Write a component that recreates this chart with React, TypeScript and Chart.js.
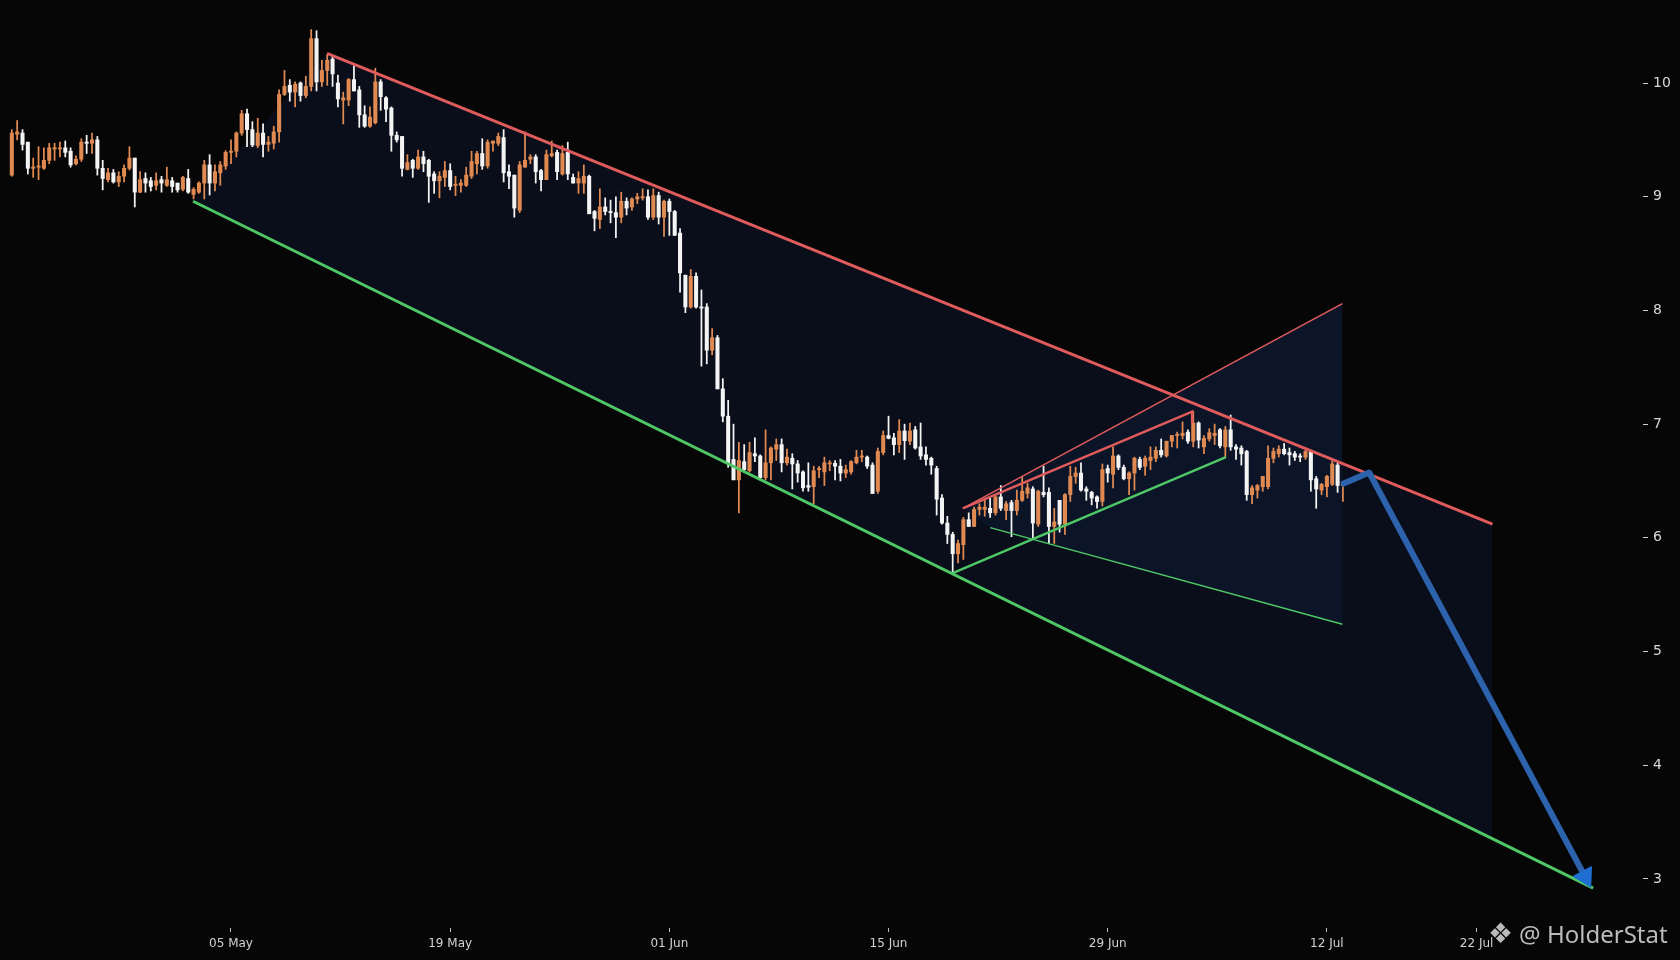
import React, { useEffect, useRef } from "react";
import { Chart, registerables } from "chart.js";

Chart.register(...registerables);

// ---- Candle data (8h candles, index 0..249) ----
const OPEN = [
  9.19, 9.55, 9.56, 9.48, 9.25, 9.26, 9.25, 9.32, 9.42, 9.42,
  9.43, 9.40, 9.29, 9.33, 9.48, 9.47, 9.50, 9.25, 9.15, 9.21,
  9.13, 9.18, 9.25, 9.34, 9.04, 9.16, 9.14, 9.10, 9.15, 9.10,
  9.14, 9.12, 9.065, 9.16, 9.02, 9.04, 9.12, 9.28, 9.12, 9.21,
  9.27, 9.39, 9.40, 9.56, 9.73, 9.59, 9.45, 9.56, 9.46, 9.47,
  9.57, 9.90, 9.98, 9.92, 10.00, 9.89, 9.97, 10.39, 10.01, 10.11,
  10.21, 10.00, 9.85, 9.85, 10.03, 9.94, 9.72, 9.62, 9.65, 10.01,
  9.87, 9.78, 9.54, 9.53, 9.24, 9.32, 9.25, 9.35, 9.32, 9.20,
  9.14, 9.17, 9.23, 9.10, 9.10, 9.10, 9.18, 9.29, 9.38, 9.27,
  9.47, 9.47, 9.52, 9.22, 9.19, 8.88, 9.26, 9.33, 9.35, 9.23,
  9.15, 9.36, 9.39, 9.20, 9.39, 9.17, 9.12, 9.12, 9.18, 8.87,
  8.80, 8.91, 8.87, 8.86, 8.82, 8.96, 8.91, 8.98, 8.99, 9.00,
  8.82, 9.01, 8.82, 8.96, 8.87, 8.68, 8.31, 8.03, 8.30, 8.03,
  8.03, 7.65, 7.76, 7.31, 7.07, 6.69, 6.51, 6.67, 6.59, 6.74,
  6.72, 6.53, 6.66, 6.78, 6.82, 6.66, 6.70, 6.65, 6.58, 6.46,
  6.45, 6.60, 6.58, 6.65, 6.655, 6.63, 6.57, 6.58, 6.66, 6.71,
  6.71, 6.64, 6.41, 6.75, 6.90, 6.88, 6.82, 6.94, 6.85, 6.95,
  6.80, 6.73, 6.70, 6.61, 6.35, 6.13, 6.03, 5.86, 5.94, 6.16,
  6.10, 6.25, 6.25, 6.26, 6.22, 6.36, 6.24, 6.31, 6.24, 6.33,
  6.39, 6.43, 6.12, 6.40, 6.40, 6.10, 6.33, 6.12, 6.38, 6.54,
  6.57, 6.43, 6.40, 6.36, 6.32, 6.61, 6.56, 6.72, 6.62, 6.52,
  6.57, 6.69, 6.63, 6.68, 6.70, 6.77, 6.72, 6.85, 6.90, 6.90,
  6.93, 6.85, 7.01, 6.80, 6.87, 6.90, 6.95, 6.80, 6.95, 6.80,
  6.79, 6.76, 6.38, 6.42, 6.45, 6.45, 6.70, 6.74, 6.78, 6.75,
  6.74, 6.72, 6.71, 6.76, 6.52, 6.42, 6.45, 6.47, 6.64, 6.46,
];
const HIGH = [
  9.59, 9.67, 9.59, 9.48, 9.34, 9.44, 9.43, 9.47, 9.47, 9.48,
  9.49, 9.43, 9.36, 9.51, 9.54, 9.56, 9.53, 9.32, 9.25, 9.24,
  9.22, 9.28, 9.44, 9.34, 9.22, 9.21, 9.17, 9.21, 9.18, 9.26,
  9.17, 9.12, 9.18, 9.24, 9.08, 9.13, 9.32, 9.37, 9.28, 9.31,
  9.405, 9.50, 9.57, 9.76, 9.77, 9.66, 9.69, 9.64, 9.53, 9.62,
  9.94, 10.11, 10.03, 10.01, 10.01, 10.06, 10.47, 10.46, 10.20, 10.25,
  10.23, 10.07, 9.92, 10.04, 10.15, 9.97, 9.80, 9.79, 10.13, 10.03,
  9.88, 9.79, 9.57, 9.53, 9.37, 9.33, 9.41, 9.40, 9.33, 9.22,
  9.22, 9.31, 9.29, 9.18, 9.15, 9.26, 9.40, 9.40, 9.51, 9.50,
  9.49, 9.56, 9.59, 9.28, 9.19, 9.31, 9.57, 9.37, 9.37, 9.24,
  9.41, 9.49, 9.41, 9.45, 9.48, 9.20, 9.22, 9.28, 9.19, 8.88,
  9.07, 8.99, 8.97, 9.00, 9.04, 8.99, 8.99, 9.03, 9.07, 9.06,
  9.07, 9.04, 8.97, 8.98, 8.88, 8.72, 8.31, 8.36, 8.33, 8.18,
  8.06, 7.84, 7.78, 7.40, 7.21, 7.00, 6.84, 6.82, 6.84, 6.88,
  6.73, 6.95, 6.80, 6.87, 6.87, 6.78, 6.74, 6.68, 6.59, 6.66,
  6.63, 6.63, 6.71, 6.68, 6.68, 6.69, 6.64, 6.68, 6.77, 6.77,
  6.72, 6.66, 6.79, 6.94, 7.07, 6.92, 7.04, 7.00, 7.01, 6.98,
  7.01, 6.80, 6.71, 6.63, 6.38, 6.19, 6.05, 5.98, 6.18, 6.22,
  6.27, 6.30, 6.35, 6.35, 6.38, 6.46, 6.32, 6.33, 6.42, 6.54,
  6.48, 6.45, 6.42, 6.63, 6.44, 6.26, 6.33, 6.39, 6.63, 6.62,
  6.66, 6.45, 6.41, 6.37, 6.65, 6.64, 6.80, 6.73, 6.64, 6.58,
  6.71, 6.71, 6.72, 6.80, 6.80, 6.87, 6.85, 6.90, 6.93, 7.02,
  6.95, 7.11, 7.02, 6.90, 6.96, 7.00, 6.96, 6.98, 7.08, 6.82,
  6.81, 6.77, 6.46, 6.47, 6.54, 6.81, 6.79, 6.81, 6.83, 6.79,
  6.76, 6.74, 6.79, 6.77, 6.54, 6.48, 6.55, 6.68, 6.66, 6.48,
];
const LOW = [
  9.18, 9.50, 9.41, 9.20, 9.17, 9.15, 9.24, 9.29, 9.32, 9.35,
  9.35, 9.26, 9.28, 9.31, 9.38, 9.38, 9.19, 9.06, 9.13, 9.12,
  9.09, 9.13, 9.235, 8.91, 9.035, 9.04, 9.05, 9.06, 9.04, 9.09,
  9.04, 9.04, 9.05, 9.03, 8.98, 9.03, 8.98, 9.015, 9.05, 9.10,
  9.24, 9.29, 9.35, 9.54, 9.44, 9.44, 9.43, 9.35, 9.40, 9.42,
  9.48, 9.89, 9.84, 9.79, 9.84, 9.87, 9.93, 9.93, 9.97, 9.98,
  9.97, 9.79, 9.64, 9.80, 9.93, 9.61, 9.61, 9.61, 9.64, 9.76,
  9.66, 9.40, 9.48, 9.18, 9.235, 9.17, 9.24, 9.22, 8.95, 9.03,
  8.99, 9.09, 9.06, 9.01, 9.04, 9.09, 9.16, 9.20, 9.24, 9.25,
  9.40, 9.45, 9.13, 9.07, 8.82, 8.86, 9.26, 9.29, 9.12, 9.05,
  9.15, 9.35, 9.15, 9.19, 9.15, 9.12, 9.03, 9.03, 8.85, 8.70,
  8.72, 8.84, 8.77, 8.64, 8.77, 8.84, 8.88, 8.94, 8.97, 8.80,
  8.80, 8.76, 8.65, 8.66, 8.66, 8.16, 7.98, 8.02, 8.02, 7.51,
  7.53, 7.61, 7.31, 7.02, 6.62, 6.51, 6.22, 6.58, 6.58, 6.67,
  6.51, 6.51, 6.51, 6.68, 6.58, 6.64, 6.43, 6.49, 6.41, 6.41,
  6.30, 6.53, 6.46, 6.59, 6.51, 6.50, 6.53, 6.56, 6.65, 6.67,
  6.61, 6.39, 6.39, 6.73, 6.87, 6.73, 6.75, 6.69, 6.82, 6.78,
  6.69, 6.64, 6.56, 6.20, 6.12, 5.95, 5.69, 5.78, 5.81, 6.10,
  6.10, 6.20, 6.19, 6.18, 6.20, 6.24, 6.16, 6.01, 6.20, 6.32,
  6.35, 6.00, 6.10, 6.36, 5.95, 5.95, 6.05, 6.03, 6.32, 6.48,
  6.41, 6.33, 6.29, 6.26, 6.28, 6.49, 6.44, 6.60, 6.51, 6.38,
  6.42, 6.60, 6.55, 6.60, 6.67, 6.71, 6.71, 6.80, 6.79, 6.87,
  6.83, 6.80, 6.79, 6.74, 6.85, 6.82, 6.79, 6.71, 6.77, 6.69,
  6.64, 6.33, 6.30, 6.35, 6.41, 6.43, 6.66, 6.71, 6.73, 6.64,
  6.68, 6.67, 6.69, 6.41, 6.26, 6.38, 6.36, 6.46, 6.40, 6.32,
];
const CLOSE = [
  9.56, 9.57, 9.46, 9.25, 9.26, 9.27, 9.32, 9.43, 9.43, 9.43,
  9.39, 9.28, 9.33, 9.48, 9.47, 9.50, 9.25, 9.16, 9.21, 9.13,
  9.18, 9.25, 9.34, 9.04, 9.15, 9.12, 9.09, 9.14, 9.12, 9.15,
  9.09, 9.06, 9.17, 9.04, 9.065, 9.12, 9.28, 9.12, 9.22, 9.28,
  9.39, 9.40, 9.56, 9.73, 9.59, 9.455, 9.56, 9.46, 9.48, 9.57,
  9.90, 9.97, 9.92, 9.99, 9.89, 9.97, 10.39, 10.01, 10.11, 10.20,
  10.08, 9.86, 9.87, 10.03, 9.93, 9.72, 9.62, 9.70, 10.01, 9.88,
  9.77, 9.54, 9.50, 9.25, 9.30, 9.25, 9.35, 9.29, 9.18, 9.14,
  9.18, 9.23, 9.09, 9.11, 9.12, 9.19, 9.31, 9.38, 9.27, 9.48,
  9.49, 9.53, 9.21, 9.18, 8.90, 9.28, 9.32, 9.35, 9.22, 9.15,
  9.37, 9.38, 9.22, 9.38, 9.20, 9.12, 9.16, 9.18, 8.85, 8.81,
  8.91, 8.87, 8.86, 8.82, 8.96, 8.90, 8.98, 9.00, 9.00, 8.82,
  9.01, 8.82, 8.96, 8.87, 8.66, 8.33, 8.03, 8.30, 8.03, 8.02,
  7.65, 7.76, 7.31, 7.07, 6.66, 6.51, 6.68, 6.60, 6.75, 6.72,
  6.53, 6.66, 6.79, 6.82, 6.66, 6.71, 6.65, 6.57, 6.44, 6.445,
  6.59, 6.61, 6.66, 6.66, 6.63, 6.57, 6.60, 6.67, 6.71, 6.72,
  6.63, 6.39, 6.76, 6.90, 6.875, 6.82, 6.94, 6.855, 6.94, 6.79,
  6.72, 6.69, 6.64, 6.34, 6.13, 6.03, 5.86, 5.95, 6.16, 6.10,
  6.25, 6.27, 6.27, 6.22, 6.36, 6.26, 6.30, 6.24, 6.33, 6.41,
  6.44, 6.13, 6.41, 6.38, 6.10, 6.14, 6.12, 6.38, 6.54, 6.57,
  6.42, 6.41, 6.35, 6.32, 6.60, 6.57, 6.72, 6.62, 6.52, 6.57,
  6.70, 6.62, 6.70, 6.71, 6.77, 6.73, 6.85, 6.90, 6.91, 6.92,
  6.85, 7.01, 6.86, 6.875, 6.925, 6.92, 6.81, 6.95, 6.80, 6.78,
  6.74, 6.38, 6.44, 6.46, 6.54, 6.70, 6.76, 6.78, 6.74, 6.73,
  6.71, 6.71, 6.76, 6.51, 6.43, 6.47, 6.54, 6.65, 6.46, 6.47,
];

// ---- Axis ticks ----
const X_TICK_POS = [41, 82, 123, 164, 205, 246, 274];
const X_TICK_LABELS = ["05 May", "19 May", "01 Jun", "15 Jun", "29 Jun", "12 Jul", "22 Jul"];
const Y_TICKS = [3, 4, 5, 6, 7, 8, 9, 10];

// ---- Drawn trend lines: [candle index, price] ----
const CHANNEL_UPPER = [[58.96, 10.26], [276.97, 6.12]];
const CHANNEL_LOWER = [[33.9, 8.96], [295.8, 2.92]];
const CHANNEL_AREA_TOP = [[33.9, 8.96], [58.96, 10.26], [276.97, 6.12]];
const CHANNEL_AREA_BOTTOM = [[33.9, 8.96], [276.97, 3.35]];
const WEDGE_UPPER = [[177.9, 6.26], [248.9, 8.06]];
const WEDGE_LOWER = [[183.0, 6.09], [248.9, 5.24]];
const WEDGE_AREA_BOTTOM = [[177.9, 6.26], [183.0, 6.09], [248.9, 5.24]];
const RISING_UPPER = [[177.9, 6.26], [220.8, 7.11], [220.8, 7.01]];
const RISING_LOWER = [[176.0, 5.69], [227.1, 6.71]];
const ARROW_PATH = [[248.7, 6.47], [253.9, 6.575], [294.3, 3.02]];

const ORANGE = "#e08a52";
const WHITE = "#f4f4f4";
const RED = "#e05c5c";
const GREEN = "#4fc766";

const pts = (arr: number[][]) => arr.map(([x, y]) => ({ x, y }));
const isUp = (i: number) => CLOSE[i] >= OPEN[i];

export default function App() {
  const ref = useRef<HTMLCanvasElement | null>(null);

  useEffect(() => {
    document.body.style.margin = "0";
    document.body.style.background = "#060606";
    const canvas = ref.current;
    if (!canvas) return;

    const candleColor = (c: any) => (isUp(c.dataIndex) ? ORANGE : WHITE);

    const arrowRotation = (c: any) => {
      const chart = c.chart;
      const xs = chart.scales.x;
      const ys = chart.scales.y;
      const a = ARROW_PATH[1];
      const b = ARROW_PATH[2];
      const dx = xs.getPixelForValue(b[0]) - xs.getPixelForValue(a[0]);
      const dy = ys.getPixelForValue(b[1]) - ys.getPixelForValue(a[1]);
      return (Math.atan2(dx, -dy) * 180) / Math.PI;
    };

    const lineDs = (data: number[][], color: string, width: number, order: number) => ({
      type: "line",
      data: pts(data),
      borderColor: color,
      borderWidth: width,
      pointRadius: 0,
      fill: false,
      tension: 0,
      order,
    });

    const chart = new Chart(canvas, {
      type: "bar",
      data: {
        datasets: [
          {
            type: "line",
            data: pts(CHANNEL_AREA_TOP),
            borderColor: "transparent",
            borderWidth: 0,
            pointRadius: 0,
            backgroundColor: "#0a0e1a",
            fill: 1,
            order: 30,
          },
          {
            type: "line",
            data: pts(CHANNEL_AREA_BOTTOM),
            borderColor: "transparent",
            borderWidth: 0,
            pointRadius: 0,
            fill: false,
            order: 31,
          },
          {
            type: "line",
            data: pts(WEDGE_UPPER),
            borderColor: "transparent",
            borderWidth: 0,
            pointRadius: 0,
            backgroundColor: "#0c1528",
            fill: 3,
            order: 28,
          },
          {
            type: "line",
            data: pts(WEDGE_AREA_BOTTOM),
            borderColor: "transparent",
            borderWidth: 0,
            pointRadius: 0,
            fill: false,
            order: 29,
          },
          {
            type: "bar",
            data: OPEN.map((_, i) => ({ x: i, y: [LOW[i], HIGH[i]] })),
            backgroundColor: candleColor,
            barThickness: 1.1,
            grouped: false,
            borderWidth: 0,
            order: 12,
          },
          {
            type: "bar",
            data: OPEN.map((_, i) => ({ x: i, y: [OPEN[i], CLOSE[i]] })),
            backgroundColor: candleColor,
            barThickness: 3.4,
            grouped: false,
            borderWidth: 0,
            minBarLength: 1.2,
            order: 11,
          },
          lineDs(WEDGE_UPPER, RED, 1.5, 6),
          lineDs(WEDGE_LOWER, GREEN, 1.5, 6),
          lineDs(RISING_UPPER, RED, 2.5, 5),
          lineDs(RISING_LOWER, GREEN, 2.5, 5),
          lineDs(CHANNEL_UPPER, RED, 3, 4),
          lineDs(CHANNEL_LOWER, GREEN, 3, 4),
          {
            type: "line",
            data: pts(ARROW_PATH),
            borderColor: "#2d62ad",
            borderWidth: 6,
            borderJoinStyle: "round",
            pointRadius: (c: any) => (c.dataIndex === 2 ? 12 : 0),
            pointStyle: "triangle",
            pointRotation: arrowRotation,
            pointBackgroundColor: "#1f6fd3",
            pointBorderColor: "#1f6fd3",
            pointBorderWidth: 1,
            fill: false,
            tension: 0,
            order: 1,
          },
        ] as any,
      },
      options: {
        animation: false,
        responsive: false,
        maintainAspectRatio: false,
        layout: { padding: 0, autoPadding: false },
        plugins: { legend: { display: false }, tooltip: { enabled: false } },
        events: [],
        scales: {
          x: {
            type: "linear",
            min: -2.21,
            max: 305.13,
            offset: false,
            afterBuildTicks: (s: any) => {
              s.ticks = X_TICK_POS.map((v) => ({ value: v }));
            },
            afterFit: (s: any) => {
              s.height = 32;
              s.paddingLeft = 0;
              s.paddingRight = 0;
            },
            ticks: {
              autoSkip: false,
              maxRotation: 0,
              minRotation: 0,
              padding: 5,
              color: "#d2d2d2",
              font: { family: "DejaVu Sans", size: 12 },
              callback: (v: any) => {
                const k = X_TICK_POS.indexOf(Number(v));
                return k >= 0 ? X_TICK_LABELS[k] : "";
              },
            },
            grid: {
              drawOnChartArea: false,
              drawTicks: true,
              tickLength: 4,
              color: "#bdbdbd",
              offset: false,
            },
            border: { display: false },
          },
          y: {
            type: "linear",
            position: "right",
            min: 2.569,
            max: 10.73,
            afterBuildTicks: (s: any) => {
              s.ticks = Y_TICKS.map((v) => ({ value: v }));
            },
            afterFit: (s: any) => {
              s.width = 37;
              s.paddingTop = 0;
              s.paddingBottom = 0;
            },
            ticks: {
              padding: 5,
              color: "#d8d8d8",
              font: { family: "DejaVu Sans", size: 14 },
              callback: (v: any) => String(v),
            },
            grid: {
              drawOnChartArea: false,
              drawTicks: true,
              tickLength: 5,
              color: "#cfcfcf",
            },
            border: { display: false },
          },
        },
      } as any,
    });

    return () => chart.destroy();
  }, []);

  return (
    <div style={{ position: "relative", width: 1680, height: 960, background: "#060606" }}>
      <canvas ref={ref} width={1680} height={960} style={{ display: "block", width: 1680, height: 960 }} />
      <div
        style={{
          position: "absolute",
          left: 1488,
          top: 916,
          height: 36,
          lineHeight: "36px",
          whiteSpace: "nowrap",
          color: "#cfcfcf",
          opacity: 0.9,
          fontFamily: "'Noto Sans', sans-serif",
          fontSize: 24,
        }}
      >
        <span style={{ fontFamily: "'DejaVu Sans'", fontSize: 28, marginRight: 6 }}>❖</span>
        <span>@ HolderStat</span>
      </div>
    </div>
  );
}
